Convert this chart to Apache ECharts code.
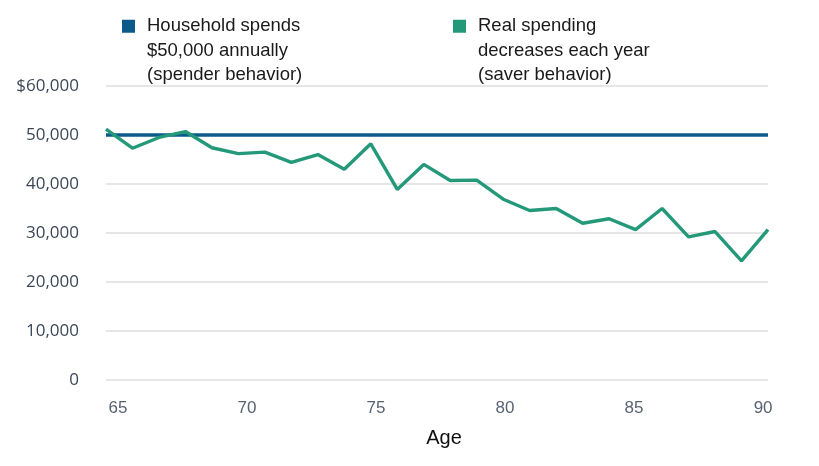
<!DOCTYPE html>
<html>
<head>
<meta charset="utf-8">
<script src="https://cdn.jsdelivr.net/npm/echarts@6/dist/echarts.min.js"></script>
<style>html,body{margin:0;padding:0;background:#fff}#c{width:819px;height:466px}</style>
</head>
<body>
<div id="c"></div>
<script>
const ages = [65,66,67,68,69,70,71,72,73,74,75,76,77,78,79,80,81,82,83,84,85,86,87,88,89,90];
const spender = [50000,50000,50000,50000,50000,50000,50000,50000,50000,50000,50000,50000,50000,50000,50000,50000,50000,50000,50000,50000,50000,50000,50000,50000,50000,50000];
const saver = [51200,47300,49500,50700,47400,46200,46500,44400,46000,43000,48200,38900,44000,40700,40800,36900,34600,35000,32000,32900,30700,35000,29200,30300,24300,30700];
const xTicks = [65,70,75,80,85,90];
const yTicks = [0,10000,20000,30000,40000,50000,60000];
const names = ['Household spends\n$50,000 annually\n(spender behavior)', 'Real spending\ndecreases each year\n(saver behavior)'];

const BLUE = '#0b5a8a', GREEN = '#23997a';
const chart = echarts.init(document.getElementById('c'));
const legendText = {fontFamily: 'Liberation Sans, Arial, sans-serif', fontSize: 18.5, color: '#1a1a1a', lineHeight: 24.5, padding: [0, 0, 0, 7]};
const legendBase = {top: -40, icon: 'rect', itemWidth: 13, itemHeight: 13, selectedMode: false,
  textStyle: legendText, formatter: n => '\n\n' + n};
chart.setOption({
  animation: false,
  grid: {left: 106, right: 51, top: 86, bottom: 86},
  legend: [
    Object.assign({data: [names[0]], left: 117}, legendBase),
    Object.assign({data: [names[1]], left: 448}, legendBase)
  ],
  xAxis: [
    {type: 'value', min: ages[0], max: ages[ages.length - 1], show: true,
     axisLine: {show: false}, axisTick: {show: false}, axisLabel: {show: false}, splitLine: {show: false}},
    {type: 'value', min: 64.535, max: 90.19, position: 'bottom',
     axisLine: {show: false}, axisTick: {show: false}, splitLine: {show: false},
     axisLabel: {customValues: xTicks, margin: 20, fontFamily: 'Liberation Sans, Arial, sans-serif', fontSize: 17, color: '#5a6373'},
     name: 'Age', nameLocation: 'middle', nameGap: 48,
     nameTextStyle: {fontFamily: 'Liberation Sans, Arial, sans-serif', fontSize: 20, color: '#111', padding: [0, 0, 0, 14]}}
  ],
  yAxis: {
    type: 'value', min: 0, max: 60000, interval: 10000,
    axisLine: {show: false}, axisTick: {show: false},
    splitLine: {lineStyle: {color: '#dedede', width: 1.5}},
    axisLabel: {margin: 27, fontFamily: 'Open Sans, Noto Sans, sans-serif', fontSize: 17, color: '#3b4757',
      formatter: v => (v === yTicks[yTicks.length - 1] ? '$' : '') + v.toLocaleString('en-US')}
  },
  series: [
    {name: names[0], type: 'line', xAxisIndex: 0, data: ages.map((a, i) => [a, spender[i]]),
     showSymbol: false, color: BLUE, lineStyle: {width: 3.5, color: BLUE}},
    {name: names[1], type: 'line', xAxisIndex: 0, data: ages.map((a, i) => [a, saver[i]]),
     showSymbol: false, color: GREEN, lineStyle: {width: 3.4, color: GREEN}}
  ]
});
</script>
</body>
</html>
